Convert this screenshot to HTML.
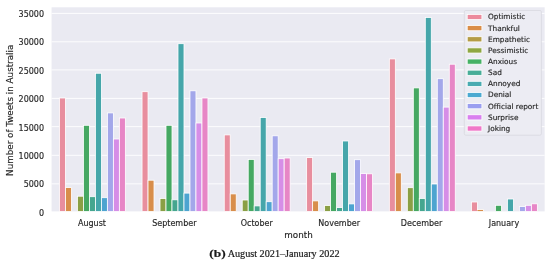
<!DOCTYPE html>
<html><head><meta charset="utf-8"><title>Tweets per month</title>
<style>
html,body{margin:0;padding:0;background:#fff;}
body{width:550px;height:262px;overflow:hidden;position:relative;}
svg{position:absolute;left:0;top:0;display:block;}
text{stroke:#262626;stroke-width:0.15px;}
.tk{font-family:"DejaVu Sans","Liberation Sans",sans-serif;font-size:8px;fill:#262626;}
.lb{font-family:"DejaVu Sans","Liberation Sans",sans-serif;font-size:8.75px;fill:#262626;}
.lg{font-family:"DejaVu Sans","Liberation Sans",sans-serif;font-size:7.35px;fill:#262626;}
.cap{font-family:"Liberation Serif","DejaVu Serif",serif;font-size:10.1px;fill:#1a1a1a;stroke:#1a1a1a;stroke-width:0.18px;}
</style></head>
<body>
<svg width="550" height="262" viewBox="0 0 550 262">
<defs><filter id="soft" x="-5%" y="-5%" width="110%" height="110%"><feGaussianBlur stdDeviation="0.4"/></filter></defs>
<g filter="url(#soft)">
<rect x="51.55" y="7.3" width="493.1" height="204.1" fill="#eaeaf2"/>
<line x1="51.55" x2="544.65" y1="183.85" y2="183.85" stroke="#fff" stroke-width="0.9"/>
<line x1="51.55" x2="544.65" y1="155.3" y2="155.3" stroke="#fff" stroke-width="0.9"/>
<line x1="51.55" x2="544.65" y1="126.65" y2="126.65" stroke="#fff" stroke-width="0.9"/>
<line x1="51.55" x2="544.65" y1="98.4" y2="98.4" stroke="#fff" stroke-width="0.9"/>
<line x1="51.55" x2="544.65" y1="69.9" y2="69.9" stroke="#fff" stroke-width="0.9"/>
<line x1="51.55" x2="544.65" y1="41.8" y2="41.8" stroke="#fff" stroke-width="0.9"/>
<line x1="51.55" x2="544.65" y1="13.4" y2="13.4" stroke="#fff" stroke-width="0.9"/>
<g stroke="#fff" stroke-width="0.8">
<rect x="59.44" y="98" width="5.99" height="113.4" fill="#e88e9e"/>
<rect x="65.43" y="187.6" width="5.99" height="23.8" fill="#d88e4c"/>
<rect x="77.42" y="196.2" width="5.99" height="15.2" fill="#8a9f45"/>
<rect x="83.41" y="125.3" width="5.99" height="86.1" fill="#44a862"/>
<rect x="89.4" y="196.7" width="5.99" height="14.7" fill="#45a68f"/>
<rect x="95.4" y="73.25" width="5.99" height="138.15" fill="#44a6aa"/>
<rect x="101.39" y="197.7" width="5.99" height="13.7" fill="#4ea4d0"/>
<rect x="107.38" y="112.9" width="5.99" height="98.5" fill="#a3a7ea"/>
<rect x="113.37" y="139" width="5.99" height="72.4" fill="#d68ee7"/>
<rect x="119.37" y="118" width="5.99" height="93.4" fill="#e786c6"/>
<rect x="142.04" y="91.7" width="5.99" height="119.7" fill="#e88e9e"/>
<rect x="148.03" y="180.2" width="5.99" height="31.2" fill="#d88e4c"/>
<rect x="160.02" y="198.5" width="5.99" height="12.9" fill="#8a9f45"/>
<rect x="166.01" y="125.3" width="5.99" height="86.1" fill="#44a862"/>
<rect x="172" y="199.8" width="5.99" height="11.6" fill="#45a68f"/>
<rect x="178" y="43.7" width="5.99" height="167.7" fill="#44a6aa"/>
<rect x="183.99" y="193.1" width="5.99" height="18.3" fill="#4ea4d0"/>
<rect x="189.98" y="90.8" width="5.99" height="120.6" fill="#a3a7ea"/>
<rect x="195.97" y="123" width="5.99" height="88.4" fill="#d68ee7"/>
<rect x="201.97" y="98" width="5.99" height="113.4" fill="#e786c6"/>
<rect x="224.24" y="134.9" width="5.99" height="76.5" fill="#e88e9e"/>
<rect x="230.23" y="193.9" width="5.99" height="17.5" fill="#d88e4c"/>
<rect x="242.22" y="200" width="5.99" height="11.4" fill="#8a9f45"/>
<rect x="248.21" y="159.4" width="5.99" height="52" fill="#44a862"/>
<rect x="254.2" y="205.9" width="5.99" height="5.5" fill="#45a68f"/>
<rect x="260.2" y="117.5" width="5.99" height="93.9" fill="#44a6aa"/>
<rect x="266.19" y="201.7" width="5.99" height="9.7" fill="#4ea4d0"/>
<rect x="272.18" y="135.8" width="5.99" height="75.6" fill="#a3a7ea"/>
<rect x="278.17" y="158.7" width="5.99" height="52.7" fill="#d68ee7"/>
<rect x="284.17" y="158" width="5.99" height="53.4" fill="#e786c6"/>
<rect x="306.64" y="157.6" width="5.99" height="53.8" fill="#e88e9e"/>
<rect x="312.63" y="200.9" width="5.99" height="10.5" fill="#d88e4c"/>
<rect x="324.62" y="205.5" width="5.99" height="5.9" fill="#8a9f45"/>
<rect x="330.61" y="172.2" width="5.99" height="39.2" fill="#44a862"/>
<rect x="336.6" y="207.6" width="5.99" height="3.8" fill="#45a68f"/>
<rect x="342.6" y="141" width="5.99" height="70.4" fill="#44a6aa"/>
<rect x="348.59" y="203.9" width="5.99" height="7.5" fill="#4ea4d0"/>
<rect x="354.58" y="159.7" width="5.99" height="51.7" fill="#a3a7ea"/>
<rect x="360.57" y="173.6" width="5.99" height="37.8" fill="#d68ee7"/>
<rect x="366.57" y="173.8" width="5.99" height="37.6" fill="#e786c6"/>
<rect x="389.34" y="58.9" width="5.99" height="152.5" fill="#e88e9e"/>
<rect x="395.33" y="172.9" width="5.99" height="38.5" fill="#d88e4c"/>
<rect x="407.32" y="187.7" width="5.99" height="23.7" fill="#8a9f45"/>
<rect x="413.31" y="87.9" width="5.99" height="123.5" fill="#44a862"/>
<rect x="419.3" y="198.4" width="5.99" height="13" fill="#45a68f"/>
<rect x="425.3" y="17.5" width="5.99" height="193.9" fill="#44a6aa"/>
<rect x="431.29" y="184" width="5.99" height="27.4" fill="#4ea4d0"/>
<rect x="437.28" y="78.7" width="5.99" height="132.7" fill="#a3a7ea"/>
<rect x="443.27" y="107.1" width="5.99" height="104.3" fill="#d68ee7"/>
<rect x="449.27" y="64.2" width="5.99" height="147.2" fill="#e786c6"/>
<rect x="471.44" y="202" width="5.99" height="9.4" fill="#e88e9e"/>
<rect x="477.43" y="209.6" width="5.99" height="1.8" fill="#d88e4c"/>
<rect x="495.41" y="205.3" width="5.99" height="6.1" fill="#44a862"/>
<rect x="507.4" y="199" width="5.99" height="12.4" fill="#44a6aa"/>
<rect x="519.38" y="206.6" width="5.99" height="4.8" fill="#a3a7ea"/>
<rect x="525.37" y="205.3" width="5.99" height="6.1" fill="#d68ee7"/>
<rect x="531.37" y="203.8" width="5.99" height="7.6" fill="#e786c6"/>
</g>
<text x="44.0" y="215.7" text-anchor="end" class="tk">0</text>
<text x="44.0" y="187.32" text-anchor="end" class="tk">5000</text>
<text x="44.0" y="158.94" text-anchor="end" class="tk">10000</text>
<text x="44.0" y="130.56" text-anchor="end" class="tk">15000</text>
<text x="44.0" y="102.18" text-anchor="end" class="tk">20000</text>
<text x="44.0" y="73.8" text-anchor="end" class="tk">25000</text>
<text x="44.0" y="45.42" text-anchor="end" class="tk">30000</text>
<text x="44.0" y="17.04" text-anchor="end" class="tk">35000</text>
<text x="91.95" y="225.5" text-anchor="middle" class="tk">August</text>
<text x="174.35" y="225.5" text-anchor="middle" class="tk">September</text>
<text x="256.75" y="225.5" text-anchor="middle" class="tk">October</text>
<text x="339.15" y="225.5" text-anchor="middle" class="tk">November</text>
<text x="421.55" y="225.5" text-anchor="middle" class="tk">December</text>
<text x="503.95" y="225.5" text-anchor="middle" class="tk">January</text>
<text x="298.5" y="237.8" text-anchor="middle" class="lb">month</text>
<text transform="translate(12.7 110.3) rotate(-90)" text-anchor="middle" class="lb">Number of Tweets in Australia</text>
<rect x="464.3" y="10.5" width="77.1" height="124.7" rx="1.5" fill="#ececf3" stroke="#d6d6dc" stroke-width="0.65"/>
<rect x="467.2" y="14.4" width="14.7" height="5.2" fill="#ec8a9c" stroke="#fff" stroke-width="0.8"/>
<text x="488.0" y="19.35" class="lg">Optimistic</text>
<rect x="467.2" y="25.55" width="14.7" height="5.2" fill="#da8d47" stroke="#fff" stroke-width="0.8"/>
<text x="488.0" y="30.5" class="lg">Thankful</text>
<rect x="467.2" y="36.7" width="14.7" height="5.2" fill="#b49c44" stroke="#fff" stroke-width="0.8"/>
<text x="488.0" y="41.65" class="lg">Empathetic</text>
<rect x="467.2" y="47.85" width="14.7" height="5.2" fill="#8fa743" stroke="#fff" stroke-width="0.8"/>
<text x="488.0" y="52.8" class="lg">Pessimistic</text>
<rect x="467.2" y="59" width="14.7" height="5.2" fill="#44b165" stroke="#fff" stroke-width="0.8"/>
<text x="488.0" y="63.95" class="lg">Anxious</text>
<rect x="467.2" y="70.15" width="14.7" height="5.2" fill="#47ad98" stroke="#fff" stroke-width="0.8"/>
<text x="488.0" y="75.1" class="lg">Sad</text>
<rect x="467.2" y="81.3" width="14.7" height="5.2" fill="#49abb1" stroke="#fff" stroke-width="0.8"/>
<text x="488.0" y="86.25" class="lg">Annoyed</text>
<rect x="467.2" y="92.45" width="14.7" height="5.2" fill="#4ca9d1" stroke="#fff" stroke-width="0.8"/>
<text x="488.0" y="97.4" class="lg">Denial</text>
<rect x="467.2" y="103.6" width="14.7" height="5.2" fill="#9a9ef0" stroke="#fff" stroke-width="0.8"/>
<text x="488.0" y="108.55" class="lg">Official report</text>
<rect x="467.2" y="114.75" width="14.7" height="5.2" fill="#d97fef" stroke="#fff" stroke-width="0.8"/>
<text x="488.0" y="119.7" class="lg">Surprise</text>
<rect x="467.2" y="125.9" width="14.7" height="5.2" fill="#f077c8" stroke="#fff" stroke-width="0.8"/>
<text x="488.0" y="130.85" class="lg">Joking</text>
<text transform="translate(209.3 256.6) scale(1.17 1)" class="cap" style="font-weight:bold;font-size:11.4px">(b)</text>
<text x="227.7" y="256.5" class="cap" style="font-size:10.18px">August 2021–January 2022</text>
</g>
</svg>
</body></html>
